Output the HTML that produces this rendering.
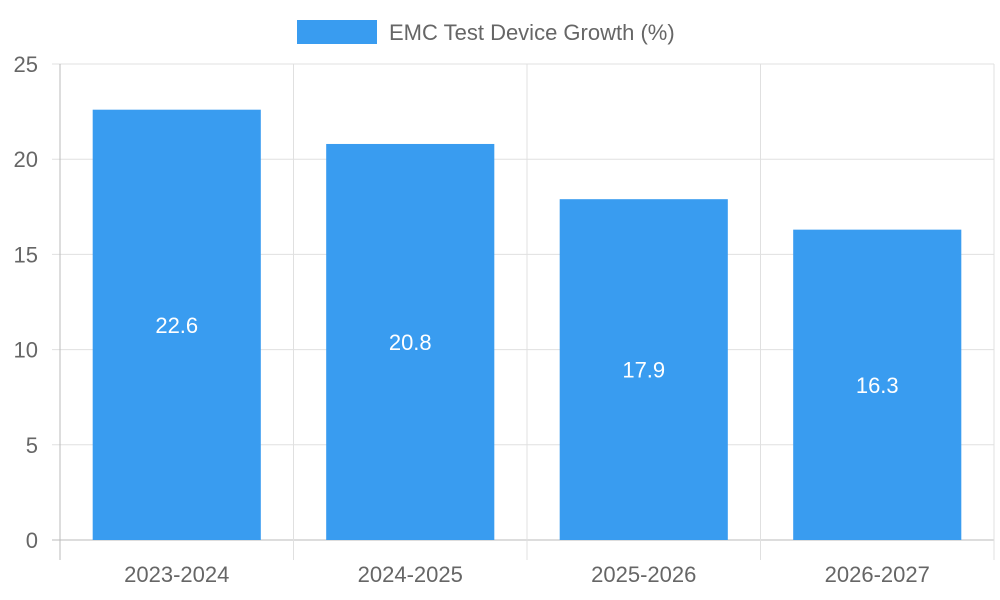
<!DOCTYPE html>
<html><head><meta charset="utf-8"><style>
html,body{margin:0;padding:0;background:#fff;}
svg{display:block;font-family:"Liberation Sans",sans-serif;}
</style></head><body>
<svg id="chart" width="1000" height="600">
<g id="grid"></g>
<g id="bars"></g>
<g id="labels"></g>
<g>
<rect x="297" y="20" width="80" height="24" fill="#399cf0"/>
<text x="389" y="40" font-size="22" fill="#666">EMC Test Device Growth (%)</text>
</g>
</svg>
<script>
const categories=["2023-2024","2024-2025","2025-2026","2026-2027"];
const values=[22.6,20.8,17.9,16.3];
const yTicks=[0,5,10,15,20,25];
const L=60,R=994,T=64,B=540,yMax=25;
const ns="http://www.w3.org/2000/svg";
const y=v=>B-(v/yMax)*(B-T);
const bw=(R-L)/categories.length;
const xc=i=>L+bw*(i+0.5);
function mk(tag,attrs,parent,text){const e=document.createElementNS(ns,tag);for(const k in attrs)e.setAttribute(k,attrs[k]);if(text!==undefined)e.textContent=text;document.getElementById(parent).appendChild(e);return e;}
yTicks.forEach(t=>{
 const l=mk('line',{x1:L-8,x2:R,y1:y(t),y2:y(t),stroke:t===0?'#bbb':'#e0e0e0','stroke-width':1},'grid');
 
 
 const tx=mk('text',{x:L-22,y:y(t)+8,'font-size':22,fill:'#666','text-anchor':'end'},'labels',t);
 
 
});
for(let i=0;i<=categories.length;i++){
 const x=L+bw*i;
 const l=mk('line',{x1:x,x2:x,y1:T,y2:B+20,stroke:i===0?'#bbb':'#e0e0e0','stroke-width':1},'grid');
 
 
}
categories.forEach((c,i)=>{
 const w=bw*0.72;
 const r=mk('rect',{x:xc(i)-w/2,y:y(values[i]),width:w,height:B-y(values[i]),fill:'#399cf0'},'bars');
 
 
 const v=mk('text',{x:xc(i),y:(y(values[i])+B)/2+8,'font-size':22,fill:'#fff','text-anchor':'middle'},'labels',values[i]);
 
 
 const t=mk('text',{x:xc(i),y:582,'font-size':22,fill:'#666','text-anchor':'middle'},'labels',c);
 
 
});
</script>
</body></html>
